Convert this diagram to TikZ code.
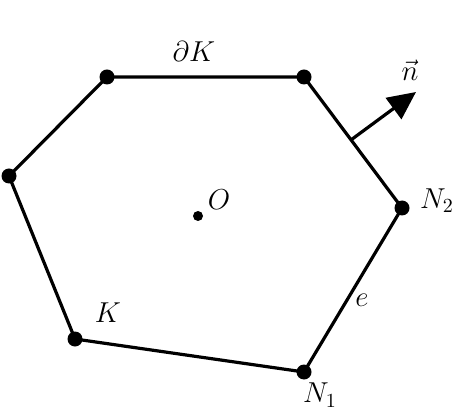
\documentclass[tikz,border=0pt]{standalone}
\usetikzlibrary{arrows.meta,calc}
\begin{document}
\begin{tikzpicture}[x=0.5pt,y=-0.5pt,
  edge/.style={line width=1.6pt},
  vdot/.style={circle,fill=black,inner sep=0pt,minimum size=7.5pt},
  odot/.style={circle,fill=black,inner sep=0pt,minimum size=5pt},
  lab/.style={font=\Large}]
\useasboundingbox (0,0) rectangle (474,410);
\coordinate (A) at (107,77);
\coordinate (B) at (304,77);
\coordinate (C) at (9,176);
\coordinate (N2) at (402,208);
\coordinate (N1) at (304,372);
\coordinate (Kc) at (75,339);
\draw[edge,line join=round] (A) -- (B) -- (N2) -- (N1) -- (Kc) -- (C) -- cycle;
\foreach \p in {A,B,C,N2,N1,Kc} \node[vdot] at (\p) {};
\node[odot] (O) at (198,216) {};
\coordinate (nb) at ($(B)!0.48!(N2)$);
\coordinate (nt) at (416,92);
\draw[edge,-{Triangle[length=14pt,width=13pt]}] (nb) -- (nt);
\node[lab] (dK) at (194,52) {$\partial K$};
\node[lab] (nv) at (410,70) {$\vec{n}$};
\node[lab] (lN2) at (437,201) {$N_2$};
\node[lab] (le) at (362,300) {$e$};
\node[lab] (lK) at (108,313) {$K$};
\node[lab] (lN1) at (320,395) {$N_1$};
\node[lab] (lO) at (219,200) {$O$};
\end{tikzpicture}
\end{document}
